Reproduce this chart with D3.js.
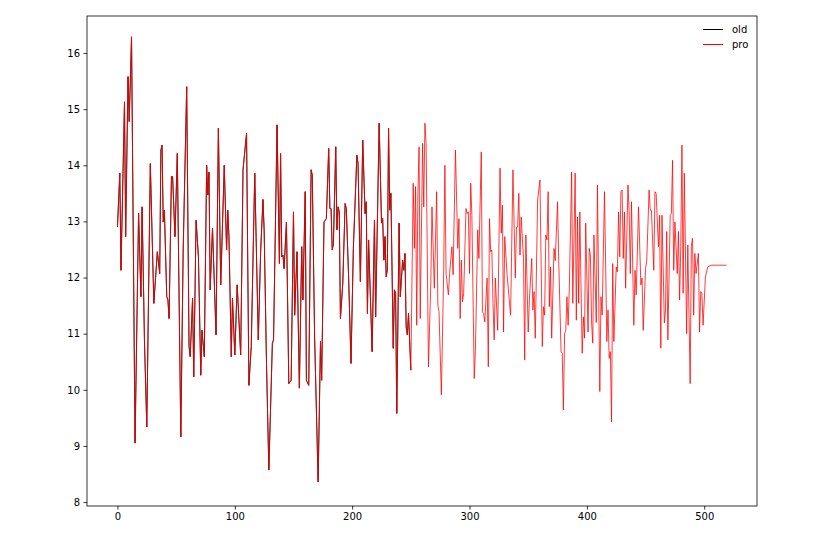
<!DOCTYPE html>
<html>
<head>
<meta charset="utf-8">
<script src="https://cdn.jsdelivr.net/npm/d3@7"></script>
<style>
  body { margin: 0; background: #fff; }
  text { font-family: "DejaVu Sans", sans-serif; }
</style>
</head>
<body>
<div id="chart"></div>
<script>
// x index and value for the turning points of the "pro" series
var proIdx = [0,2,3,6,7,9,10,12,15,18,20,21,23,25,28,31,34,36,37,38,39,40,42,43,44,46,47,49,51,54,56,59,61,62,64,65,67,69,71,72,74,76,77,78,79,81,84,86,88,91,93,94,95,97,98,100,102,105,107,110,112,114,117,120,122,124,125,127,129,132,133,136,138,139,140,141,142,144,146,148,150,151,153,155,157,158,160,161,163,165,166,168,171,173,174,176,178,180,181,182,183,184,186,187,188,189,190,192,194,195,197,199,201,204,205,207,209,211,212,213,214,217,219,220,223,225,226,227,228,229,230,231,232,233,235,236,237,238,240,241,243,244,245,246,247,248,250,252,253,254,255,256,257,258,260,261,262,263,265,267,268,270,272,273,274,276,278,279,280,282,283,285,286,288,290,291,292,293,294,295,297,298,299,300,301,302,304,305,307,308,310,311,312,313,315,316,317,318,319,320,321,322,324,326,327,328,329,330,332,335,337,339,340,341,342,343,344,346,347,348,350,351,353,354,355,356,357,358,360,362,363,364,365,366,367,368,369,370,372,373,375,376,378,379,380,381,382,383,384,385,387,388,390,391,392,393,394,395,396,397,398,399,401,402,403,404,405,406,408,409,411,412,413,415,417,418,419,420,421,422,423,425,426,427,428,429,430,431,432,433,435,436,437,438,440,441,442,444,446,447,448,450,451,453,454,455,457,458,459,461,462,463,464,466,467,468,469,471,472,473,474,475,477,478,479,480,481,482,483,485,486,488,489,490,491,492,493,495,496,497,498,499,501,503,506,519];
var proVal = [12.9,13.86,12.13,15.13,12.73,15.58,14.78,16.29,9.05,13.15,11.66,13.26,10.89,9.34,14.03,11.54,12.46,12.07,14.27,14.36,12.99,13.2,11.66,11.6,11.27,13.8,13.8,12.73,14.21,9.16,12.49,15.4,10.77,10.59,11.63,10.23,13.02,12.37,10.26,11.06,10.59,14.0,13.47,13.88,11.78,12.88,10.98,14.66,11.87,14.0,12.49,13.2,12.73,10.59,11.63,10.62,11.87,10.62,13.92,14.57,10.08,10.77,13.86,10.89,12.46,13.39,12.85,10.47,8.57,10.83,10.89,14.72,12.25,14.21,12.37,12.4,12.16,12.99,10.11,10.17,13.17,11.33,12.46,10.03,12.55,11.6,13.53,10.17,10.08,13.92,13.83,10.94,8.36,10.86,10.17,12.99,13.05,14.3,13.23,13.23,12.49,12.6,14.33,12.85,13.26,13.17,11.27,11.9,13.32,13.23,11.99,10.47,12.52,14.18,14.03,11.93,14.45,13.14,13.35,11.36,12.67,10.68,13.02,11.3,14.75,12.97,13.05,12.31,12.73,12.01,12.15,14.66,13.2,13.5,10.74,11.78,11.72,9.58,12.97,11.66,12.31,12.13,12.43,11.12,10.98,11.36,10.35,13.68,12.52,13.62,11.15,13.5,14.33,11.27,14.39,13.26,14.75,14.39,10.41,11.9,13.26,11.81,13.53,11.51,11.39,9.91,12.13,14.0,12.07,11.69,12.07,12.55,12.05,14.27,12.52,13.05,11.27,12.31,11.57,11.72,13.23,13.14,13.17,12.07,13.68,13.11,10.2,10.7,12.85,12.34,14.24,11.39,11.36,11.21,11.99,10.41,13.05,12.46,12.49,11.54,10.89,11.99,11.06,13.95,12.79,13.29,11.03,12.73,12.05,11.33,13.92,11.99,12.9,12.9,13.5,12.4,13.08,12.34,10.53,12.76,11.03,11.6,12.34,11.42,11.75,10.92,12.1,13.38,13.74,10.77,11.48,11.33,12.76,12.67,13.53,11.48,12.19,10.92,12.52,12.3,13.35,12.3,10.68,10.65,9.64,11.0,11.06,11.66,11.15,11.78,13.88,11.54,13.86,11.24,13.08,11.54,13.17,11.84,10.65,11.3,10.92,12.97,11.03,12.52,12.4,11.21,10.83,12.76,11.2,13.65,9.97,11.66,11.33,13.53,10.86,11.42,10.56,10.68,9.43,12.25,10.86,12.19,12.1,13.17,12.37,13.53,13.56,12.34,13.17,11.81,13.65,13.17,12.07,13.35,11.15,12.13,11.69,13.26,11.87,11.99,11.06,12.16,12.3,13.56,13.2,13.2,12.13,13.53,13.5,12.55,13.11,10.74,13.11,11.19,11.42,12.82,10.89,13.11,13.14,14.09,12.13,12.99,12.07,12.82,11.6,12.55,14.36,11.72,13.86,11.0,12.58,10.11,12.55,12.7,11.33,12.43,12.07,12.43,11.03,11.75,11.72,11.15,12.01,12.19,12.22,12.22];

// "old" runs along the same values but stops at index 250
var oldLast = 250;

var xTicks = [0, 100, 200, 300, 400, 500];
var yTicks = [8, 9, 10, 11, 12, 13, 14, 15, 16];
var seriesNames = ["old", "pro"];
var seriesColors = ["#000000", "#ff0000"];

var width = 830,
    height = 546,
    margin = { top: 16, left: 87, right: 73, bottom: 40 };

var svg = d3.select("#chart")
    .append("svg")
    .attr("width", width)
    .attr("height", height);

var x = d3.scaleLinear()
    .domain([-25.95, 544.95])
    .range([margin.left, width - margin.right]);

var y = d3.scaleLinear()
    .domain([7.93, 16.66])
    .range([height - margin.bottom, margin.top]);

var pro = proIdx.map(function(d, i) { return { x: d, y: proVal[i] }; });
var old = pro.filter(function(d) { return d.x <= oldLast; });

var line = d3.line()
    .x(function(d) { return x(d.x); })
    .y(function(d) { return y(d.y); });

svg.append("path")
    .datum(old)
    .attr("fill", "none")
    .attr("stroke", seriesColors[0])
    .attr("stroke-width", 0.9)
    .attr("d", line);

// red drawn on top, a bit see-through so the black shows under it
svg.append("path")
    .datum(pro)
    .attr("fill", "none")
    .attr("stroke", seriesColors[1])
    .attr("stroke-opacity", 0.85)
    .attr("stroke-width", 0.9)
    .attr("d", line);

// axes
var xAxis = svg.append("g")
    .attr("transform", "translate(0," + (height - margin.bottom) + ")")
    .call(d3.axisBottom(x).tickValues(xTicks).tickSize(3.5).tickPadding(3.5).tickFormat(d3.format("d")));

var yAxis = svg.append("g")
    .attr("transform", "translate(" + margin.left + ",0)")
    .call(d3.axisLeft(y).tickValues(yTicks).tickSize(3.5).tickPadding(3.5).tickFormat(d3.format("d")));

[xAxis, yAxis].forEach(function(g) {
  g.select(".domain").remove();
  g.selectAll("text").attr("font-size", 10).attr("fill", "#000").style("font-family", "DejaVu Sans");
  g.selectAll("line").attr("stroke", "#000").attr("stroke-width", 0.8);
});

// frame
svg.append("rect")
    .attr("x", margin.left)
    .attr("y", margin.top)
    .attr("width", width - margin.left - margin.right)
    .attr("height", height - margin.top - margin.bottom)
    .attr("fill", "none")
    .attr("stroke", "#000")
    .attr("stroke-width", 0.8);

// legend
var legend = svg.append("g")
    .attr("transform", "translate(703,29.5)");

var items = legend.selectAll("g")
    .data(seriesNames)
    .enter().append("g")
    .attr("transform", function(d, i) { return "translate(0," + (i * 15) + ")"; });

items.append("line")
    .attr("x1", 0).attr("x2", 20)
    .attr("y1", 0).attr("y2", 0)
    .attr("stroke", function(d, i) { return seriesColors[i]; })
    .attr("stroke-width", 1);

items.append("text")
    .attr("x", 29)
    .attr("y", 3.5)
    .attr("font-size", 10)
    .text(function(d) { return d; });
</script>
</body>
</html>
